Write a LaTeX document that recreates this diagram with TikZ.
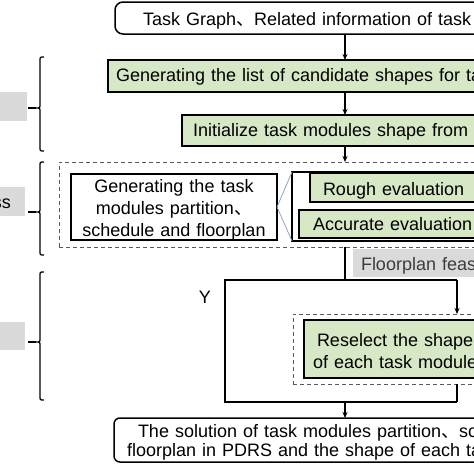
\documentclass[tikz,border=0pt]{standalone}
\usepackage{fontspec}
\setmainfont{Liberation Sans}
\newfontfamily\cjk{Noto Sans CJK SC}
\usetikzlibrary{arrows.meta}
\definecolor{boxgreen}{RGB}{214,232,197}
\definecolor{labgray}{RGB}{218,218,218}
\definecolor{dashgray}{RGB}{90,90,90}
\definecolor{zoomblue}{RGB}{140,165,200}
\definecolor{darktext}{RGB}{60,60,60}
\newcommand\mybrace[3]{%
  \draw[bracestyle] (44,#1) .. controls (40,#1) .. (40,#1+4) -- (40,#2-4)
     .. controls (40,#2) .. (36,#2) .. controls (40,#2) .. (40,#2+4)
     -- (40,#3-4) .. controls (40,#3) .. (44,#3);
  \draw[bracestyle] (28,#2) -- (36,#2);}
\begin{document}
\begin{tikzpicture}[x=1pt,y=-1pt,
  font=\fontsize{18}{21.7}\selectfont,
  box/.style={draw=black, line width=1.5pt, outer sep=0pt, inner ysep=0pt,
    anchor=west, align=left, text depth=0pt},
  gbox/.style={box, fill=boxgreen},
  arr/.style={-{Stealth[length=6pt,width=5pt]}, line width=1.3pt},
  conn/.style={line width=1.3pt},
  dbox/.style={draw=dashgray, dash pattern=on 4pt off 3pt, line width=1pt,
    outer sep=0pt, inner sep=0pt, anchor=north west},
  bracestyle/.style={line width=1.3pt},
  graylab/.style={fill=labgray, outer sep=0pt, inner ysep=0pt, align=left, text depth=0pt},
  zoomline/.style={draw=zoomblue, line width=0.8pt}]
\useasboundingbox (0,0) rectangle (474,474);
\clip (0,0) rectangle (474,474);

% column coordinates
\coordinate (col) at (345,0);
\coordinate (jl) at (225,280);
\coordinate (j1) at (345,280);
\coordinate (jr) at (457,280);
\coordinate (jl2) at (225,402);
\coordinate (j2) at (345,402);
\coordinate (jr2) at (457,402);

% left labels and braces
\node[graylab, anchor=east, minimum height=29pt, minimum width=32pt] (gl1) at (27,106.5) {};
\node[graylab, anchor=east, minimum height=29pt, inner xsep=14pt, text width=40pt,
  align=right, text height=13pt] (gl2) at (25,201.5) {ss};
\node[graylab, anchor=east, minimum height=28pt, minimum width=30pt] (gl3) at (25,336) {};
\mybrace{57}{108}{151}
\mybrace{162}{212}{255}
\mybrace{272}{342}{400}

% main flow
\node[box, rounded corners=8pt, minimum height=32pt, inner xsep=28pt, text width=449pt,
  text height=14pt] (top) at (115,18) {Task Graph{\cjk 、}Related information of task};
\node[gbox, minimum height=32pt, inner xsep=8pt, text width=496pt, text height=11.4pt]
  (g1) at (108,76) {Generating the list of candidate shapes for ta};
\node[gbox, minimum height=31pt, inner xsep=11pt, text width=416pt, text height=11pt]
  (g2) at (182,130.5) {Initialize task modules shape from};

\node[dbox, minimum width=561pt, minimum height=85pt] (d1) at (59,162) {};
\node[box, anchor=center, align=center, inner xsep=0pt, text width=206pt,
  minimum height=66pt, text height=12.9pt, text depth=41.5pt] (part) at (174,207)
  {Generating the task\\modules partition{\cjk 、}\\schedule and floorplan};
\node[box, fill=white, line width=1.8pt, anchor=north west, inner sep=0pt,
  minimum width=328pt, minimum height=69pt] (ev) at (292,172) {};
\node[gbox, minimum height=29pt, inner xsep=13pt, text width=284pt, text height=15pt]
  (rough) at (310,187.5) {Rough evaluation};
\node[gbox, minimum height=28pt, inner xsep=14pt, text width=293pt, text height=12pt]
  (acc) at (299,224) {Accurate evaluation};
\draw[zoomline] (ev.north west) -- (part.east) -- (ev.south west);

\node[graylab, anchor=west, minimum height=28pt, inner xsep=8pt, text width=251pt,
  text height=14pt, text=darktext] (feas) at (353,263) {Floorplan feasi};
\node[anchor=base, inner sep=0pt] (ylab) at (205,303.3) {Y};

\node[dbox, minimum width=327pt, minimum height=70pt] (d2) at (293,314) {};
\node[gbox, minimum height=58pt, inner xsep=9pt, text width=298pt, text height=12.9pt,
  text depth=18.9pt, font=\fontsize{18}{22.3}\selectfont] (resel) at (304,349)
  {\hspace*{4pt}Reselect the shape\\of each task module};

\node[box, rounded corners=6pt, minimum height=44pt, inner xsep=13pt, text width=480pt,
  text height=12.9pt, text depth=17.5pt, font=\fontsize{18}{19}\selectfont] (bot) at (114,440)
  {\hspace*{11pt}The solution of task modules partition{\cjk 、}sc\\floorplan in PDRS and the shape of each ta};

% connectors
\draw[arr] (top.south -| col) -- (g1.north -| col);
\draw[arr] (g1.south -| col) -- (g2.north -| col);
\draw[arr] (g2.south -| col) -- (d1.north -| col);
\draw[conn] (d1.south -| col) -- (j1);
\draw[conn] (jr) -- (jl) -- (jl2) -- (jr2);
\draw[arr] (jr) -- (d2.north -| jr);
\draw[conn] (d2.south -| jr) -- (jr2);
\draw[arr] (j2) -- (bot.north -| col);
\end{tikzpicture}
\end{document}
